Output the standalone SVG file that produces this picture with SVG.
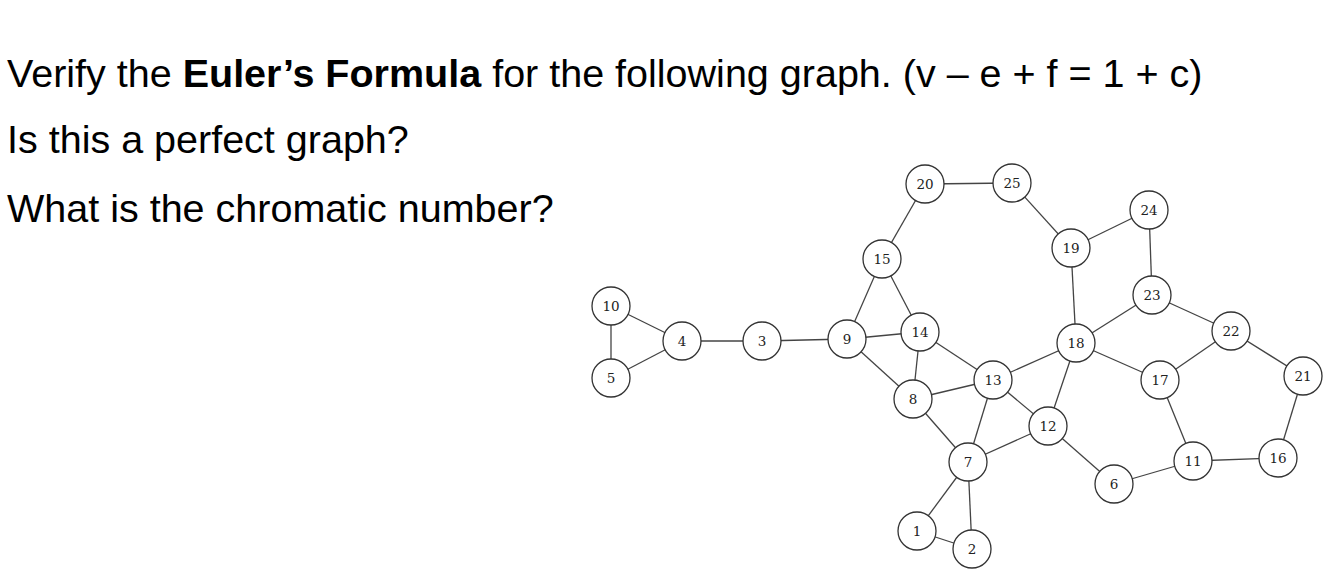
<svg xmlns="http://www.w3.org/2000/svg" width="1334" height="586" viewBox="0 0 1334 586">
<style>
.q{font-family:"Liberation Sans",Arial,sans-serif;font-size:39.5px;fill:#000}
.b{font-weight:bold}
.n circle{fill:#fff;stroke:#333;stroke-width:1.3}
.n text{font-family:"DejaVu Serif",serif;font-size:13.5px;fill:#222;text-anchor:middle;dominant-baseline:central}
#edges line{stroke:#444;stroke-width:1.3}
</style>
<rect width="1334" height="586" fill="#fff"/>
<g id="questions">
<text class="q" x="7" y="87">Verify the <tspan class="b">Euler’s Formula</tspan> for the following graph. (v – e + f = 1 + c)</text>
<text class="q" x="7" y="153">Is this a perfect graph?</text>
<text class="q" x="7" y="222">What is the chromatic number?</text>
</g>
<g id="edges">
<line x1="611" y1="306" x2="682" y2="341"/>
<line x1="611" y1="306" x2="611" y2="378"/>
<line x1="611" y1="378" x2="682" y2="341"/>
<line x1="682" y1="341" x2="762" y2="341"/>
<line x1="762" y1="341" x2="847" y2="339"/>
<line x1="847" y1="339" x2="882" y2="259"/>
<line x1="882" y1="259" x2="925" y2="184"/>
<line x1="882" y1="259" x2="920" y2="332"/>
<line x1="847" y1="339" x2="920" y2="332"/>
<line x1="847" y1="339" x2="913" y2="399"/>
<line x1="920" y1="332" x2="913" y2="399"/>
<line x1="920" y1="332" x2="993" y2="380"/>
<line x1="925" y1="184" x2="1012" y2="183"/>
<line x1="1012" y1="183" x2="1071" y2="248"/>
<line x1="1071" y1="248" x2="1149" y2="210"/>
<line x1="1149" y1="210" x2="1152" y2="295"/>
<line x1="1071" y1="248" x2="1076" y2="343"/>
<line x1="1076" y1="343" x2="1152" y2="295"/>
<line x1="1152" y1="295" x2="1231" y2="331"/>
<line x1="1076" y1="343" x2="993" y2="380"/>
<line x1="1076" y1="343" x2="1160" y2="380"/>
<line x1="1076" y1="343" x2="1048" y2="426"/>
<line x1="1231" y1="331" x2="1160" y2="380"/>
<line x1="1231" y1="331" x2="1303" y2="376"/>
<line x1="1303" y1="376" x2="1278" y2="458"/>
<line x1="1278" y1="458" x2="1193" y2="461"/>
<line x1="1160" y1="380" x2="1193" y2="461"/>
<line x1="1193" y1="461" x2="1114" y2="484"/>
<line x1="1114" y1="484" x2="1048" y2="426"/>
<line x1="1048" y1="426" x2="993" y2="380"/>
<line x1="1048" y1="426" x2="968" y2="462"/>
<line x1="993" y1="380" x2="968" y2="462"/>
<line x1="913" y1="399" x2="993" y2="380"/>
<line x1="913" y1="399" x2="968" y2="462"/>
<line x1="968" y1="462" x2="917" y2="531"/>
<line x1="968" y1="462" x2="972" y2="549"/>
<line x1="917" y1="531" x2="972" y2="549"/>
</g>
<g id="n1" class="n"><circle cx="917" cy="531" r="19"/><text x="917" y="531">1</text></g>
<g id="n2" class="n"><circle cx="972" cy="549" r="19"/><text x="972" y="549">2</text></g>
<g id="n3" class="n"><circle cx="762" cy="341" r="19"/><text x="762" y="341">3</text></g>
<g id="n4" class="n"><circle cx="682" cy="341" r="19"/><text x="682" y="341">4</text></g>
<g id="n5" class="n"><circle cx="611" cy="378" r="19"/><text x="611" y="378">5</text></g>
<g id="n6" class="n"><circle cx="1114" cy="484" r="19"/><text x="1114" y="484">6</text></g>
<g id="n7" class="n"><circle cx="968" cy="462" r="19"/><text x="968" y="462">7</text></g>
<g id="n8" class="n"><circle cx="913" cy="399" r="19"/><text x="913" y="399">8</text></g>
<g id="n9" class="n"><circle cx="847" cy="339" r="19"/><text x="847" y="339">9</text></g>
<g id="n10" class="n"><circle cx="611" cy="306" r="19"/><text x="611" y="306">10</text></g>
<g id="n11" class="n"><circle cx="1193" cy="461" r="19"/><text x="1193" y="461">11</text></g>
<g id="n12" class="n"><circle cx="1048" cy="426" r="19"/><text x="1048" y="426">12</text></g>
<g id="n13" class="n"><circle cx="993" cy="380" r="19"/><text x="993" y="380">13</text></g>
<g id="n14" class="n"><circle cx="920" cy="332" r="19"/><text x="920" y="332">14</text></g>
<g id="n15" class="n"><circle cx="882" cy="259" r="19"/><text x="882" y="259">15</text></g>
<g id="n16" class="n"><circle cx="1278" cy="458" r="19"/><text x="1278" y="458">16</text></g>
<g id="n17" class="n"><circle cx="1160" cy="380" r="19"/><text x="1160" y="380">17</text></g>
<g id="n18" class="n"><circle cx="1076" cy="343" r="19"/><text x="1076" y="343">18</text></g>
<g id="n19" class="n"><circle cx="1071" cy="248" r="19"/><text x="1071" y="248">19</text></g>
<g id="n20" class="n"><circle cx="925" cy="184" r="19"/><text x="925" y="184">20</text></g>
<g id="n21" class="n"><circle cx="1303" cy="376" r="19"/><text x="1303" y="376">21</text></g>
<g id="n22" class="n"><circle cx="1231" cy="331" r="19"/><text x="1231" y="331">22</text></g>
<g id="n23" class="n"><circle cx="1152" cy="295" r="19"/><text x="1152" y="295">23</text></g>
<g id="n24" class="n"><circle cx="1149" cy="210" r="19"/><text x="1149" y="210">24</text></g>
<g id="n25" class="n"><circle cx="1012" cy="183" r="19"/><text x="1012" y="183">25</text></g>
</svg>
